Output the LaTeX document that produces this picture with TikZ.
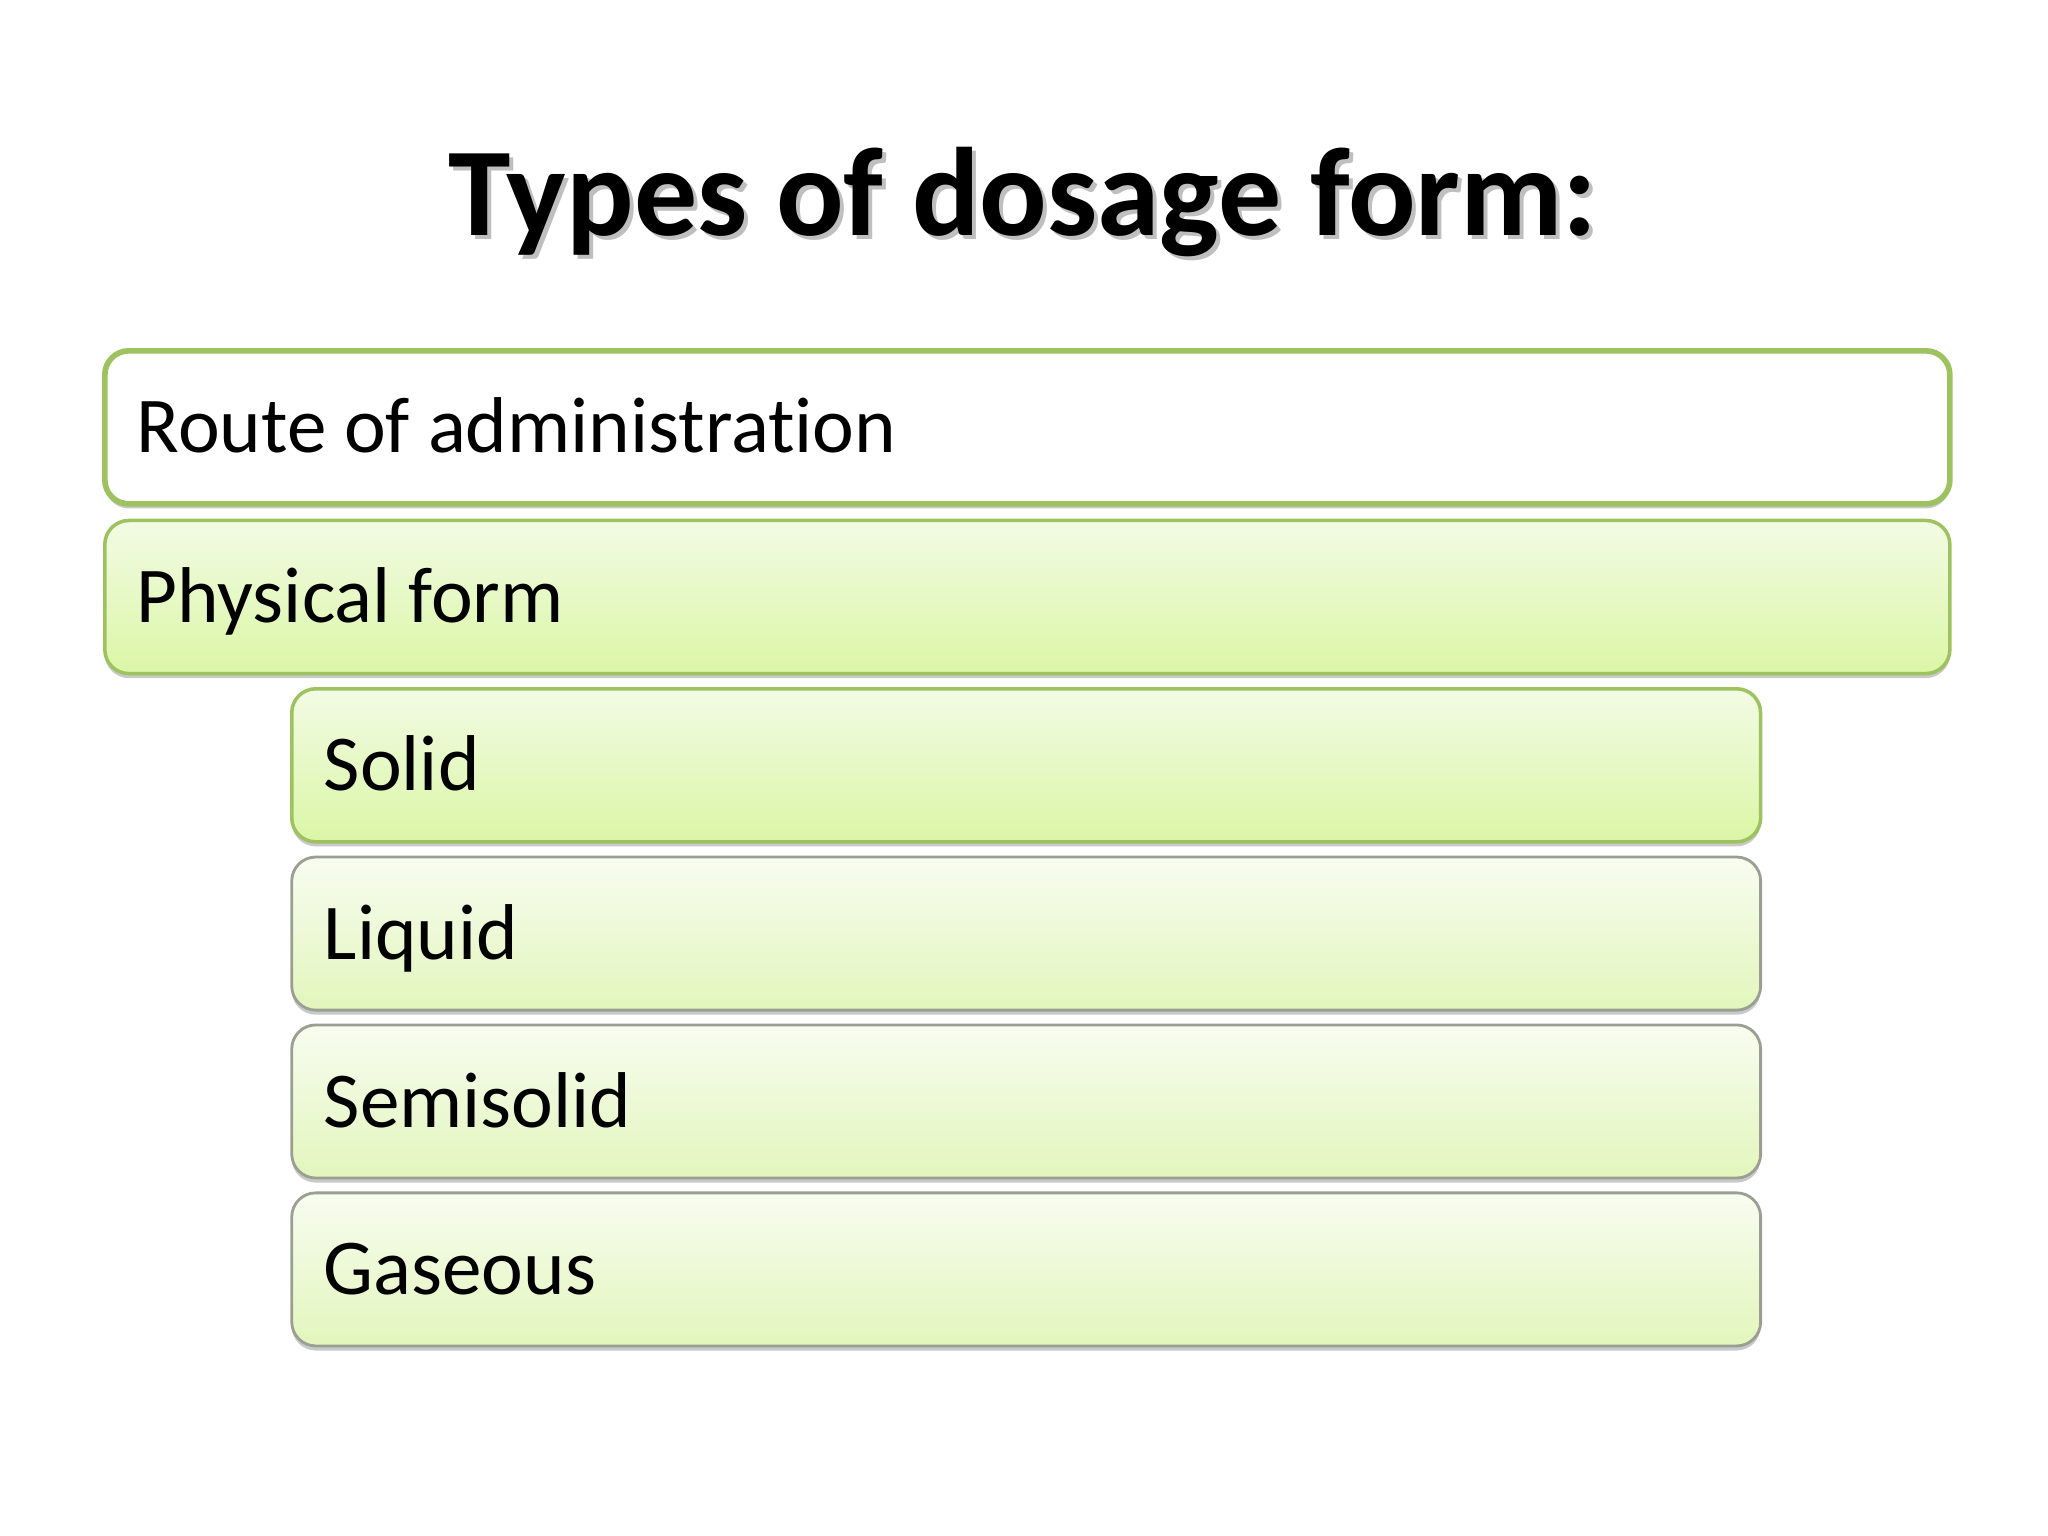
\documentclass[tikz,border=0pt]{standalone}
\usepackage{fontspec}
\setmainfont{Carlito}[Ligatures=NoCommon]
\usetikzlibrary{positioning,shadows}

\definecolor{leafline}{HTML}{9DC25F}
\definecolor{leaftop}{HTML}{F2FBE4}
\definecolor{leafbot}{HTML}{DBF6A6}
\definecolor{paletop}{HTML}{F8FCF0}
\definecolor{palebot}{HTML}{E2F6BC}
\definecolor{paleline}{HTML}{9A9F92}

\begin{document}
\begin{tikzpicture}[x=0.01cm,y=-0.01cm,node distance=0.12cm,
                    every node/.style={inner sep=0pt}]
  \tikzstyle{item}=[rectangle,rounded corners=0.24cm,minimum height=1.53cm,
                    inner xsep=0.32cm,align=flush left,text height=0.51cm,text depth=0cm,
                    font=\fontsize{22.5}{27}\selectfont,
                    drop shadow={shadow xshift=0pt,shadow yshift=-1.3pt,opacity=0.3,fill=black!70}]
  \tikzstyle{wide}=[item,text width=17.80cm]
  \tikzstyle{narrow}=[item,text width=14.04cm]
  \tikzstyle{leaf}=[draw=leafline,line width=1pt,top color=leaftop,bottom color=leafbot]
  \tikzstyle{pale}=[draw=paleline,line width=0.8pt,top color=paletop,bottom color=palebot]

  \useasboundingbox (0,0) rectangle (2048,1536);

  % heading with its soft shadow
  \node[anchor=base,text=black!25,font=\fontsize{35.8}{43}\bfseries\selectfont]
       (headshadow) at (1027,239) {Types of dosage form:};
  \node[anchor=base,font=\fontsize{35.8}{43}\bfseries\selectfont]
       (head) at (1023,235) {Types of dosage form:};

  \node[wide,draw=leafline,line width=1.6pt,fill=white,anchor=north west]
       (route) at (102,348) {Route of administration};
  \node[wide,leaf,below=of route] (phys) {Physical form};

  \node[narrow,leaf,anchor=north west] (solid) at (290,687) {Solid};
  \node[narrow,pale,below=of solid] (liquid) {Liquid};
  \node[narrow,pale,below=of liquid] (semi) {Semisolid};
  \node[narrow,pale,below=of semi] (gas) {Gaseous};
\end{tikzpicture}
\end{document}
